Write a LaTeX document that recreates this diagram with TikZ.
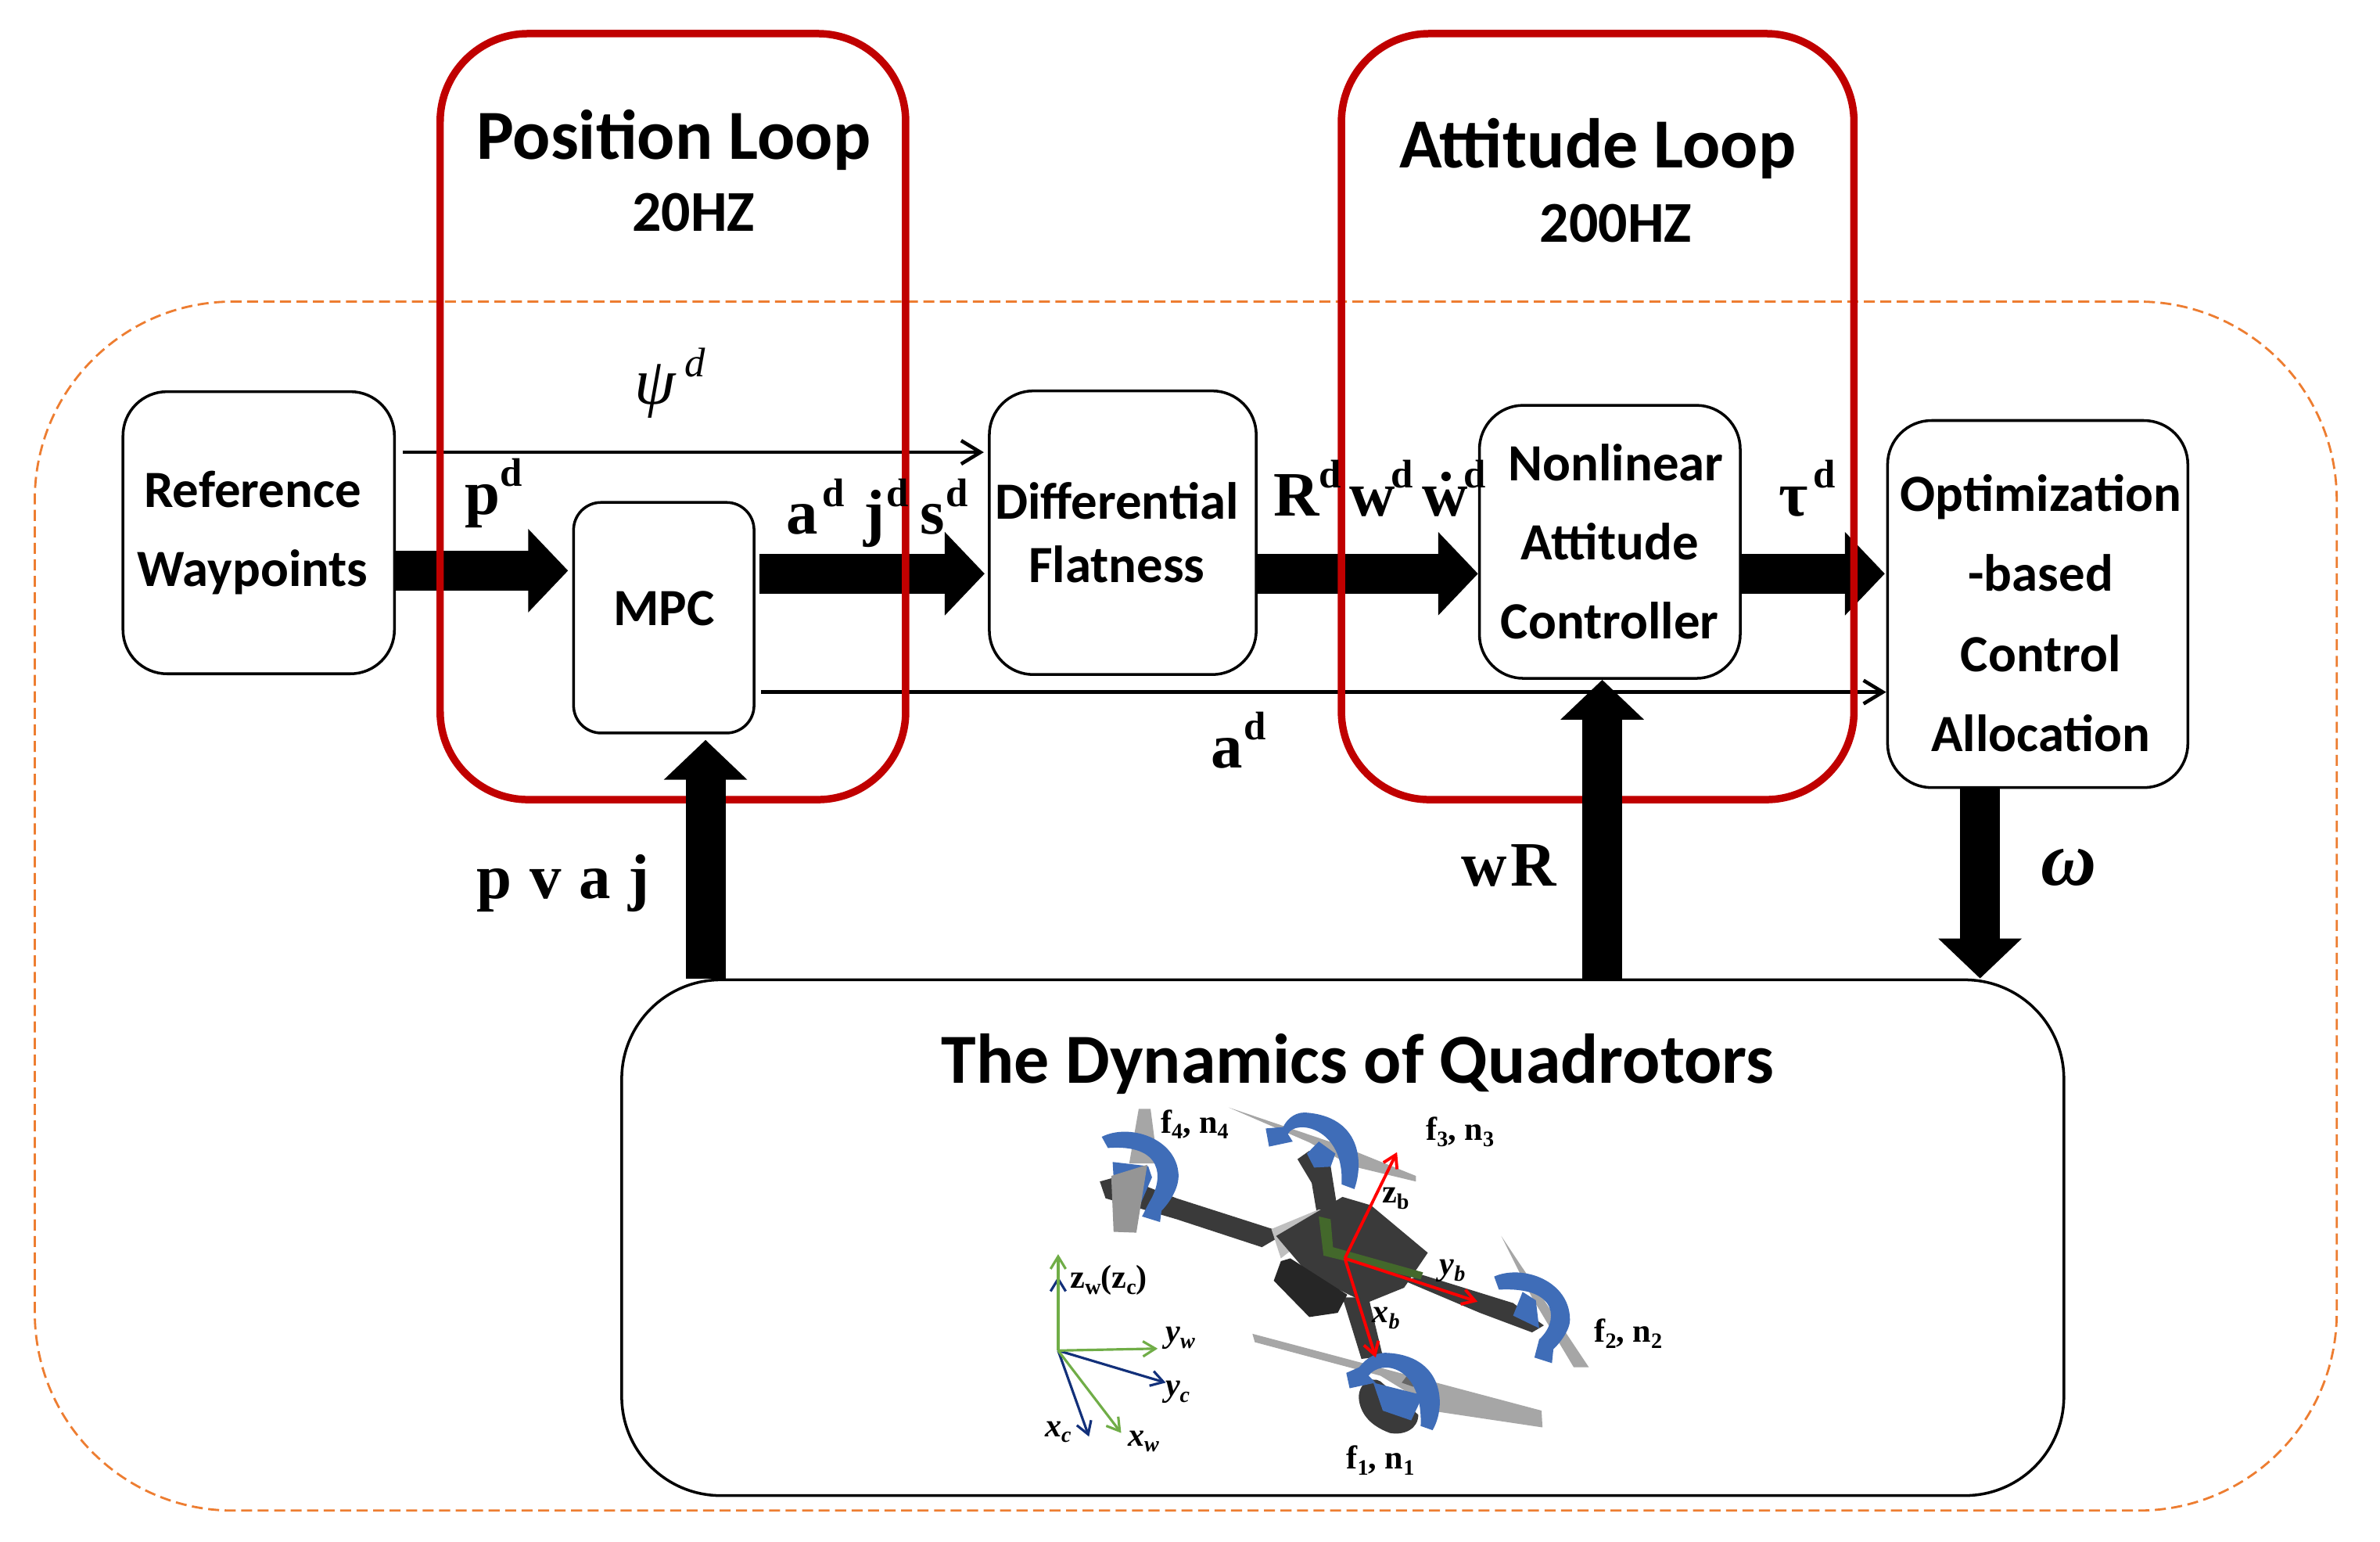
\documentclass[tikz,border=0pt]{standalone}
\usepackage{fontspec}
\setmainfont{Carlito}
\newfontfamily\tnr{Liberation Serif}
\usetikzlibrary{arrows.meta}
\definecolor{loopred}{HTML}{C00000}
\definecolor{dashor}{HTML}{ED7D31}
\definecolor{propblue}{HTML}{3F6DB8}
\definecolor{axgreen}{HTML}{70AD47}
\definecolor{axblue}{HTML}{12307A}
\definecolor{carbon}{HTML}{3A3A3A}
\definecolor{bladeg}{HTML}{A6A6A6}
% letter with raised d; optional gap before the d
\newcommand{\supd}[2][0pt]{{\tnr\bfseries #2\hspace{#1}\raisebox{10.2pt}{\fontsize{14.5}{14.5}\selectfont d}}}
% lowered small index in the quadrotor labels
\newcommand{\lowr}[1]{\raisebox{-2.2pt}{\fontsize{8}{8}\selectfont #1}}
\def\ux{0.5515pt}
\tikzset{
  box/.style n args={2}{draw, line width=1pt, fill=white, rounded corners=16pt, align=center,
    minimum width={#1*\ux}, minimum height={#2*\ux}, inner sep=0pt, font=\fontsize{19}{28.7}\selectfont\bfseries},
  loop/.style n args={2}{draw=loopred, line width=2.7pt, rounded corners=32pt,
    minimum width={#1*\ux}, minimum height={#2*\ux}, inner sep=0pt},
  fat/.style={line width=14.5pt, -{Triangle[length=14.5pt,width=29.5pt]}},
  thin/.style={line width=1.3pt, -{Straight Barb[length=7pt,width=8.5pt,line width=1.3pt]}},
  lab/.style={inner sep=0pt, anchor=base west, font=\fontsize{23}{23}\selectfont},
  small/.style={inner sep=0pt, font=\tnr\bfseries\fontsize{12}{12}\selectfont},
  head/.style={inner sep=0pt, font=\fontsize{25.6}{25.6}\selectfont\bfseries},
  sub/.style={inner sep=0pt, font=\fontsize{21}{21}\selectfont\bfseries},
  ax/.style={line width=0.9pt, -{Straight Barb[length=4.5pt,width=5.5pt]}},
  rot/.style={fill=propblue, draw=none},
}
\begin{document}
\begin{tikzpicture}[x=0.0194cm, y=-0.0194cm]
\useasboundingbox (0,0) rectangle (1568.6,1016);

% outer dashed frame
\node[draw=dashor, line width=0.8pt, dash pattern=on 4pt off 2pt, rounded corners=72pt,
  minimum width={1518*\ux}, minimum height={797*\ux}, inner sep=0pt] (outer) at (781.5,597) {};

% blocks
\node[box={179}{186}] (ref) at (170.5,351) {\hspace*{-4.4pt}Reference\\\hspace*{-4.4pt}Waypoints};
\node[box={119}{152}, rounded corners=10pt] (mpc) at (437.5,407) {\raisebox{6.6pt}{MPC}};
\node[box={176}{187}] (diff) at (740,351) {\hspace*{-4.4pt}Differential\\[-5.7pt]\hspace*{-4.4pt}Flatness};
\node[box={172}{180}] (nac) at (1061,357) {\hspace*{4.4pt}Nonlinear\\Attitude\\Controller};
\node[box={198}{242}] (opt) at (1343,398) {\rule{0pt}{20pt}\hspace*{2.2pt}Optimization\\[0.4pt]\hspace*{2.2pt}-based\\[0.4pt]\hspace*{2.2pt}Control\\[0.4pt]\hspace*{2.2pt}Allocation};
\node[box={951}{340}, rounded corners=36pt] (dyn) at (885,815.5) {};

% thick forward arrows
\draw[fat, shorten >=1.5pt] (ref.east |- 0,376) -- (mpc.west |- 0,376);
\draw[fat, shorten <=1.5pt, shorten >=1.2pt] (mpc.east |- 0,378) -- (diff.west |- 0,378);
\draw[fat] (diff.east |- 0,378) -- (nac.west |- 0,378);
\draw[fat, shorten >=0.5pt] (nac.east |- 0,378) -- (opt.west |- 0,378);

% thin arrows
\draw[thin, shorten <=2.5pt, shorten >=1.5pt] (ref.east |- 0,298) -- (diff.west |- 0,298);
\draw[thin, shorten <=2pt] (mpc.east |- 0,456) -- (opt.west |- 0,456);

% loops
\node[loop={307}{505}] (ploop) at (443.5,274.5) {};
\node[loop={338}{505}] (aloop) at (1053,274.5) {};

% thick vertical arrows
\draw[fat, shorten >=2pt] (dyn.north -| 465,0) -- (mpc.south -| 465,0);
\draw[fat] (dyn.north -| 1056,0) -- (nac.south -| 1056,0);
\draw[fat] (opt.south -| 1305,0) -- (dyn.north -| 1305,0);

% headings
\node[head] (ptitle) at (444,92) {Position Loop};
\node[sub] (prate) at (457,140) {20HZ};
\node[head] (atitle) at (1053,98) {Attitude Loop};
\node[sub] (arate) at (1065,147) {200HZ};
\node[head] (dtitle) at (895,701) {The Dynamics of Quadrotors};

% signal labels
\node[lab] (psi) at (418,266) {{\tnr\itshape\fontsize{24}{24}\selectfont ψ}};
\node[lab] (psid) at (451,248) {{\tnr\itshape\fontsize{15}{15}\selectfont d}};
\node[lab] (pd) at (306,339) {\supd{p}};
\node[lab] (ad) at (518,352) {\supd[1.5pt]{a}};
\node[lab] (jd) at (569,352) {\supd[0.5pt]{j}};
\node[lab] (sd) at (606,352) {\supd[0.5pt]{s}};
\node[lab] (rd) at (839,340) {\supd{R}};
\node[lab] (wd) at (889,340) {\supd[-1.5pt]{w}};
\node[lab] (wdd) at (937,340) {\supd[-1.5pt]{ẇ}};
\node[lab] (taud) at (1172,340) {\supd[2pt]{τ}};
\node[lab] (aad) at (798,506) {\supd[0.5pt]{a}};
\node[lab] (pvaj) at (314,592) {{\tnr\bfseries p\hspace{0.28em}v\hspace{0.28em}a\hspace{0.28em}j}};
\node[lab] (wr) at (963,584) {{\tnr\bfseries w\hspace{0.05em}R}};
\node[lab] (om) at (1345,583) {{\tnr\bfseries\itshape\fontsize{28}{28}\selectfont ω}};

% quadrotor, coordinates read off a crop of the reference
\begin{scope}[shift={(644.3,711.3)}, x=0.00606cm, y=-0.00357cm]
  % blades
  \fill[bladeg] (340,105) -- (365,105) -- (380,300) -- (320,300) -- cycle;
  \fill[bladeg] (530,100) -- (760,232) -- (925,345) -- (925,365) -- (790,310) -- (700,225) -- cycle;
  \fill[bladeg] (1105,560) -- (1290,1030) -- (1258,1030) -- (1170,780) -- cycle;
  \fill[bladeg] (580,910) -- (1190,1185) -- (1192,1245) -- (975,1190) -- (850,1060) -- (585,940) -- cycle;
  % arms
  \fill[carbon] (258,365) -- (300,345) -- (420,425) -- (650,550) -- (600,600) -- (420,500) -- (270,425) -- cycle;
  \fill[carbon] (675,285) -- (700,255) -- (745,310) -- (760,470) -- (715,470) -- (705,370) -- cycle;
  \fill[carbon] (900,720) -- (940,700) -- (1130,800) -- (1195,880) -- (1170,905) -- (1060,835) -- cycle;
  \fill[carbon] (770,780) -- (825,780) -- (855,990) -- (810,1000) -- cycle;
  % body
  \fill[black!25] (620,535) -- (720,465) -- (760,470) -- (700,560) -- (640,640) -- cycle;
  \fill[carbon] (630,560) -- (770,420) -- (830,450) -- (950,620) -- (900,745) -- (820,800) -- (700,700) -- cycle;
  \fill[black!85] (625,720) -- (640,650) -- (660,640) -- (780,770) -- (760,835) -- (700,850) -- cycle;
  \fill[axgreen!60!black] (720,490) -- (745,500) -- (750,600) -- (940,690) -- (935,715) -- (730,630) -- cycle;
  % motors
  \fill[carbon] (805,1150) .. controls (800,1090) and (830,1060) .. (850,1080) -- (930,1200) .. controls (930,1250) and (900,1275) .. (870,1265) .. controls (830,1240) and (810,1200) .. (805,1150) -- cycle;
  \fill[propblue] (835,1085) -- (940,1130) -- (915,1220) -- (855,1185) -- cycle;
  \fill[black!60] (895,1085) -- (915,1040) -- (920,1100) -- cycle;
  \fill[propblue] (695,265) -- (720,222) -- (755,265) -- (745,312) -- (710,315) -- cycle;
  \fill[propblue] (1130,845) -- (1150,760) -- (1178,790) -- (1185,890) -- cycle;
  \fill[propblue] (285,295) -- (360,310) -- (368,350) -- (345,440) -- (290,440) -- cycle;
  \fill[bladeg!90!black] (282,345) -- (358,305) -- (335,548) -- (287,545) -- cycle;
  % spin arrows
  \fill[rot] (262,205) .. controls (320,155) and (420,210) .. (424,340) .. controls (425,390) and (405,440) .. (388,470) -- (385,510) -- (347,490) -- (362,440) .. controls (395,350) and (390,230) .. (275,245) -- cycle;
  \fill[rot] (795,392) .. controls (815,300) and (810,130) .. (690,118) .. controls (665,118) and (650,150) .. (645,170) -- (608,175) -- (615,240) -- (665,222) -- (655,195) .. controls (670,140) and (775,170) .. (768,375) -- cycle;
  \fill[rot] (1090,705) .. controls (1150,660) and (1250,720) .. (1250,860) .. controls (1250,900) and (1225,950) .. (1215,965) -- (1212,1015) -- (1175,995) -- (1185,930) .. controls (1225,870) and (1230,740) .. (1100,752) -- cycle;
  \fill[rot] (960,1255) .. controls (990,1170) and (985,985) .. (860,978) .. controls (830,980) and (815,1010) .. (805,1030) -- (778,1050) -- (785,1105) -- (840,1085) -- (825,1060) .. controls (850,1000) and (940,1020) .. (935,1240) -- cycle;
  % world and camera frames
  \coordinate (wo) at (170,970);
  \coordinate (zw) at (170,625);
  \coordinate (zc) at (170,705);
  \coordinate (yw) at (380,963);
  \coordinate (xw) at (303,1265);
  \coordinate (yc) at (397,1085);
  \coordinate (xc) at (235,1278);
  \draw[ax, draw=axblue] (wo) -- (zc);
  \draw[ax, draw=axblue] (wo) -- (yc);
  \draw[ax, draw=axblue] (wo) -- (xc);
  \draw[ax, draw=axgreen] (wo) -- (zw);
  \draw[ax, draw=axgreen] (wo) -- (yw);
  \draw[ax, draw=axgreen] (wo) -- (xw);
  % body frame
  \coordinate (bo) at (775,640);
  \coordinate (zb) at (885,260);
  \coordinate (yb) at (1055,795);
  \coordinate (xb) at (840,995);
  \draw[ax, draw=red, line width=1.1pt] (bo) -- (zb);
  \draw[ax, draw=red, line width=1.1pt] (bo) -- (yb);
  \draw[ax, draw=red, line width=1.1pt] (bo) -- (xb);
  % frame labels
  \node[small] (lzw) at (277,718) {z\lowr{w}(z\lowr{c})};
  \node[small] (lyw) at (428,925) {\itshape y\lowr{w}};
  \node[small] (lyc) at (422,1120) {\itshape y\lowr{c}};
  \node[small] (lxc) at (170,1262) {\itshape x\lowr{c}};
  \node[small] (lxw) at (350,1295) {\itshape x\lowr{w}};
  \node[small] (lzb) at (882,425) {z\lowr{b}};
  \node[small] (lyb) at (1002,685) {\itshape y\lowr{b}};
  \node[small] (lxb) at (862,855) {\itshape x\lowr{b}};
  \node[small] (lf4) at (458,160) {f\lowr{4}, n\lowr{4}};
  \node[small] (lf3) at (1018,187) {f\lowr{3}, n\lowr{3}};
  \node[small] (lf2) at (1373,910) {f\lowr{2}, n\lowr{2}};
  \node[small] (lf1) at (850,1362) {f\lowr{1}, n\lowr{1}};
\end{scope}
\end{tikzpicture}
\end{document}
